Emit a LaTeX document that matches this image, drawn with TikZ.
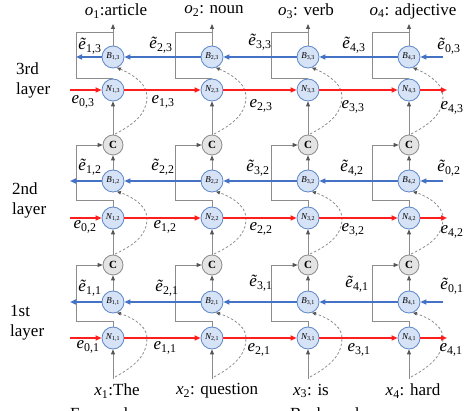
\documentclass[tikz,border=0pt]{standalone}
\usepackage{fontspec}
\setmainfont{Liberation Serif}
\usetikzlibrary{arrows.meta}
\definecolor{fwd}{HTML}{FF1E1E}
\definecolor{bwd}{HTML}{4472C4}
\definecolor{nfill}{HTML}{D6E2F5}
\definecolor{ndraw}{HTML}{5B86C8}
\definecolor{gcol}{HTML}{8C8C8C}
\definecolor{gtip}{HTML}{555555}
\definecolor{cfill}{HTML}{E4E4E4}
\newcommand\ev[1]{\textit{e}\textsubscript{#1}}
\newcommand\et[1]{\textit{\~e}\textsubscript{#1}}
\begin{document}
\begin{tikzpicture}[x=1pt,y=-1pt,
  cell/.style={circle,draw=ndraw,fill=nfill,line width=0.8pt,minimum size=22pt,inner sep=0pt,font=\fontsize{9}{10}\selectfont\itshape},
  cnode/.style={circle,draw=gcol,fill=cfill,line width=0.8pt,minimum size=20pt,inner sep=0pt,font=\fontsize{11}{12}\selectfont\bfseries},
  fline/.style={draw=fwd,line width=1.8pt,-{Triangle[length=6pt,width=5pt]}},
  bline/.style={draw=bwd,line width=1.8pt,-{Triangle[length=6pt,width=5pt]}},
  gconn/.style={draw=gcol,line width=0.9pt},
  garrow/.style={draw=gcol,line width=0.9pt,-{Triangle[length=5pt,width=4pt,color=gtip]}},
  dcurve/.style={draw=gcol,line width=0.8pt,dash pattern=on 2.5pt off 2pt,-{Triangle[length=4pt,width=3.5pt,color=gtip]}},
  lbl/.style={font=\fontsize{17}{20}\selectfont,inner sep=0pt},
]
\useasboundingbox (0,0) rectangle (474,411);

% nodes
\foreach \c/\x in {1/113,2/212,3/308,4/409}{
  \node[cell] (N\c-1) at (\x,338) {N{\upshape\textsubscript{\c,1}}};
  \node[cell] (B\c-1) at (\x,302) {B{\upshape\textsubscript{\c,1}}};
  \node[cnode] (C\c-1) at (\x,265) {C};
  \node[cell] (N\c-2) at (\x,218) {N{\upshape\textsubscript{\c,2}}};
  \node[cell] (B\c-2) at (\x,181) {B{\upshape\textsubscript{\c,2}}};
  \node[cnode] (C\c-2) at (\x,145) {C};
  \node[cell] (N\c-3) at (\x,90) {N{\upshape\textsubscript{\c,3}}};
  \node[cell] (B\c-3) at (\x,57) {B{\upshape\textsubscript{\c,3}}};
  \coordinate (in\c) at (\x,379);
  \coordinate (out\c) at (\x,24);
}

% gray connectors
\foreach \c/\x in {1/113,2/212,3/308,4/409}{
  \draw[garrow] (in\c) -- (N\c-1.south);
  \draw[garrow] (N\c-1.north) -- (\x,321) -- ({\x-37},321) -- ({\x-37},265) -- (C\c-1.west);
  \draw[garrow] (B\c-1.north) -- (C\c-1.south);
  \draw[garrow] (C\c-1.north) -- (N\c-2.south);
  \draw[garrow] (N\c-2.north) -- (\x,200) -- ({\x-37},200) -- ({\x-37},145) -- (C\c-2.west);
  \draw[garrow] (B\c-2.north) -- (C\c-2.south);
  \draw[garrow] (C\c-2.north) -- (N\c-3.south);
  \draw[gconn] (N\c-3.north) -| ({\x-37},32) -- (\x,32);
  \draw[garrow] (B\c-3.north) -- (out\c);
  % dashed
  \draw[dcurve] ({\x+2},377) .. controls ({\x+28},363) and ({\x+34},351) .. ({\x+34},338) .. controls ({\x+34},323) and ({\x+12},315) .. (B\c-1.-70);
  \draw[dcurve] ({\x+2},254) .. controls ({\x+28},242) and ({\x+34},231) .. ({\x+34},218) .. controls ({\x+34},203) and ({\x+12},194) .. (B\c-2.-70);
  \draw[dcurve] ({\x+2},134) .. controls ({\x+28},121) and ({\x+34},109) .. ({\x+34},96) .. controls ({\x+34},81) and ({\x+12},71) .. (B\c-3.-70);
}

% forward / backward lines
\foreach \l/\ny/\by/\bl in {1/338/302/70,2/218/181/70,3/90/57/76}{
  \coordinate (fs\l) at (70,\ny);
  \coordinate (fe\l) at (447,\ny);
  \coordinate (bs\l) at (443,\by);
  \coordinate (be\l) at (\bl,\by);
  \draw[bline] (bs\l) -- (B4-\l.east);
  \draw[bline] (B4-\l.west) -- (B3-\l.east);
  \draw[bline] (B3-\l.west) -- (B2-\l.east);
  \draw[bline] (B2-\l.west) -- (B1-\l.east);
  \draw[bline] (B1-\l.west) -- (be\l);
  \draw[fline] (fs\l) -- (N1-\l.west);
  \draw[fline] (N1-\l.east) -- (N2-\l.west);
  \draw[fline] (N2-\l.east) -- (N3-\l.west);
  \draw[fline] (N3-\l.east) -- (N4-\l.west);
  \draw[fline] (N4-\l.east) -- (fe\l);
}

% edge labels
\foreach \k/\x/\y in {1/90/288,2/167/288,3/261/283,4/357/284,0/452/286}
  \node[lbl] (t\k-1) at (\x,\y) {\et{\k,1}};
\foreach \k/\x/\y in {0/88/347,1/165/348,2/259/350,3/359/350,4/451/350}
  \node[lbl] (e\k-1) at (\x,\y) {\ev{\k,1}};
\foreach \k/\x/\y in {1/90/167,2/163/167,3/258/168,4/352/168,0/449/168}
  \node[lbl] (t\k-2) at (\x,\y) {\et{\k,2}};
\foreach \k/\x/\y in {0/85/227,1/165/227,2/261/229,3/353/230,4/452/232}
  \node[lbl] (e\k-2) at (\x,\y) {\ev{\k,2}};
\foreach \k/\x/\y in {1/90/46,2/161/45,3/260/42,4/354/45,0/449/46}
  \node[lbl] (t\k-3) at (\x,\y) {\et{\k,3}};
\foreach \k/\x/\y in {0/83/102,1/163/102,2/261/106,3/353/107,4/452/108}
  \node[lbl] (e\k-3) at (\x,\y) {\ev{\k,3}};

% layer labels
\node[lbl,align=left,anchor=west] (lay3) at (16,80) {3rd\\layer};
\node[lbl,align=left,anchor=west] (lay2) at (12,200) {2nd\\layer};
\node[lbl,align=left,anchor=west] (lay1) at (10,323) {1st\\layer};

% outputs and inputs
\node[lbl] (o1) at (116,11) {\textit{o}\textsubscript{1}:article};
\node[lbl] (o2) at (214,11) {\textit{o}\textsubscript{2}: noun};
\node[lbl] (o3) at (306,11) {\textit{o}\textsubscript{3}: verb};
\node[lbl] (o4) at (413,11) {\textit{o}\textsubscript{4}: adjective};
\node[lbl] (x1) at (117,391) {\textit{x}\textsubscript{1}:The};
\node[lbl] (x2) at (217,391) {\textit{x}\textsubscript{2}: question};
\node[lbl] (x3) at (311,391) {\textit{x}\textsubscript{3}: is};
\node[lbl] (x4) at (413,391) {\textit{x}\textsubscript{4}: hard};

% cut-off legend text
\node[lbl,anchor=base west] (fw) at (70,420) {Forward};
\node[lbl,anchor=base west] (bw) at (290,420) {Backward};
\end{tikzpicture}
\end{document}
